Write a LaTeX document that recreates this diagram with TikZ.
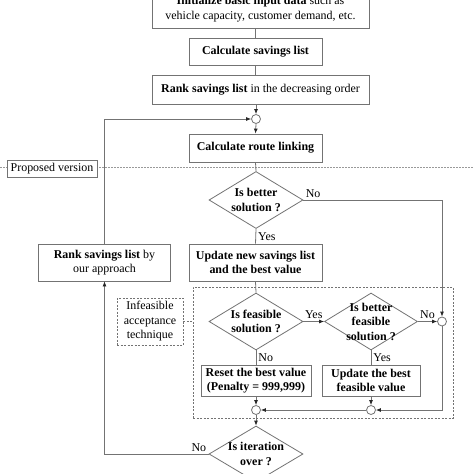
\documentclass[tikz,border=0pt]{standalone}
\usepackage{fontspec}
\setmainfont{Liberation Serif}
\usetikzlibrary{shapes.geometric, arrows.meta}

\definecolor{linegray}{gray}{0.45}

\begin{document}
\begin{tikzpicture}[x=1bp, y=-1bp,
  every node/.style={font=\fontsize{12}{14.5}\selectfont},
  process/.style={draw=linegray, fill=white, line width=0.8bp, inner sep=0pt, align=center},
  decision/.style={diamond, draw=linegray, fill=white, line width=0.8bp, inner sep=0pt,
                   minimum width=94bp, minimum height=57bp},
  dtext/.style={align=center, inner sep=0pt, font=\fontsize{12}{14.5}\selectfont\bfseries},
  junction/.style={circle, draw=linegray, fill=white, line width=0.8bp, inner sep=0pt, minimum size=9bp},
  link/.style={draw=linegray, line width=0.8bp},
  flow/.style={link, -{Latex[length=5bp, width=4bp, color=black!85]}},
  lab/.style={inner sep=2bp},
  dashbox/.style={draw=linegray, line width=0.8bp, dash pattern=on 2bp off 1.5bp, align=center, inner sep=0pt}]
  \path[use as bounding box, clip] (0,0) rectangle (474,474);

  % Main steps
  \node[process, minimum width=217bp, minimum height=38bp] (init) at (260.5,9)
    {\textbf{Initialize basic input data} such as\\vehicle capacity, customer demand, etc.};
  \node[process, minimum width=133bp, minimum height=27bp, font=\fontsize{12}{14.5}\selectfont\bfseries]
    (calc) at (255.5,51.5) {Calculate savings list};
  \node[process, minimum width=217bp, minimum height=29bp] (rank) at (260.5,89.5)
    {\textbf{Rank savings list} in the decreasing order};
  \node[junction] (j1) at (256,119) {};
  \node[process, minimum width=133bp, minimum height=28bp, font=\fontsize{12}{14.5}\selectfont\bfseries]
    (route) at (255.5,148) {Calculate route linking};

  % Proposed version
  \draw[draw=black!40, line width=1bp, dash pattern=on 2bp off 1bp] (0,168) -- (474,168);
  \node[draw=linegray, fill=white, line width=0.8bp, minimum width=90bp, minimum height=17bp, inner sep=0pt]
    (proposed) at (52,168.5) {Proposed version};

  % Infeasible acceptance frame
  \node[dashbox, minimum width=260bp, minimum height=131bp] (frame) at (323,352.5) {};
  \node[dashbox, minimum width=66bp, minimum height=47bp] (infeas) at (150,321.5)
    {Infeasible\\acceptance\\technique};

  % Decisions and updates
  \node[decision, label={[dtext]center:Is better\\solution ?}] (better) at (256,200) {};
  \node[process, minimum width=133bp, minimum height=37bp, font=\fontsize{12}{14.5}\selectfont\bfseries]
    (upd) at (255.5,262.5) {Update new savings list\\and the best value};
  \node[process, minimum width=132bp, minimum height=37bp] (rankours) at (104.5,262.5)
    {\textbf{Rank savings list} by\\our approach};
  \node[decision, label={[dtext]center:Is feasible\\solution ?}] (feas) at (256,321.5) {};
  \node[decision, minimum width=93bp, label={[dtext]center:Is better\\feasible\\solution ?}] (bfeas) at (371,321.5) {};
  \node[junction] (j2) at (442,321.5) {};
  \node[process, minimum width=110bp, minimum height=31bp, font=\fontsize{12}{14.5}\selectfont\bfseries]
    (reset) at (256,380.5) {Reset the best value\\(Penalty = 999,999)};
  \node[process, minimum width=98bp, minimum height=31bp, font=\fontsize{12}{14.5}\selectfont\bfseries]
    (updbest) at (371,380.5) {Update the best\\feasible value};
  \node[junction] (j3) at (371,410) {};
  \node[junction] (j4) at (256,410) {};
  \node[decision, minimum height=56bp, label={[dtext]center:Is iteration\\over ?}] (iter) at (256,454) {};

  % Connectors
  \draw[link] (calc.north) -- (calc.north |- init.south);
  \draw[link] (calc.south) -- (calc.south |- rank.north);
  \draw[flow] (j1.north |- rank.south) -- (j1.north);
  \draw[flow] (j1.south) -- (route.north);
  \draw[link] (route.south) -- (better.north);
  \draw[link] (better.south) -- node[lab, right] {Yes} (upd.north);
  \draw[flow] (better.east) node[lab, above right] {No} -| (j2.north);
  \draw[link] (upd.south) -- (feas.north);
  \draw[flow] (feas.east) -- node[lab, above] {Yes} (bfeas.west);
  \draw[flow] (bfeas.east) -- node[lab, above] {No} (j2.west);
  \draw[link] (feas.south) -- node[lab, right] {No} (reset.north);
  \draw[link] (bfeas.south) -- node[lab, right] {Yes} (updbest.north);
  \draw[flow] (reset.south) -- (j4.north);
  \draw[flow] (updbest.south) -- (j3.north);
  \draw[flow] (j2.south) |- (j3.east);
  \draw[flow] (j3.west) -- (j4.east);
  \draw[flow] (j4.south) -- (iter.north);
  \draw[flow] (iter.west) node[lab, above left] {No} -| (rankours.south);
  \draw[flow] (rankours.north) |- (j1.west);
  \draw[draw=linegray, line width=0.8bp, dash pattern=on 2bp off 1.5bp] (infeas.east) -- (infeas.east -| frame.west);
\end{tikzpicture}
\end{document}
